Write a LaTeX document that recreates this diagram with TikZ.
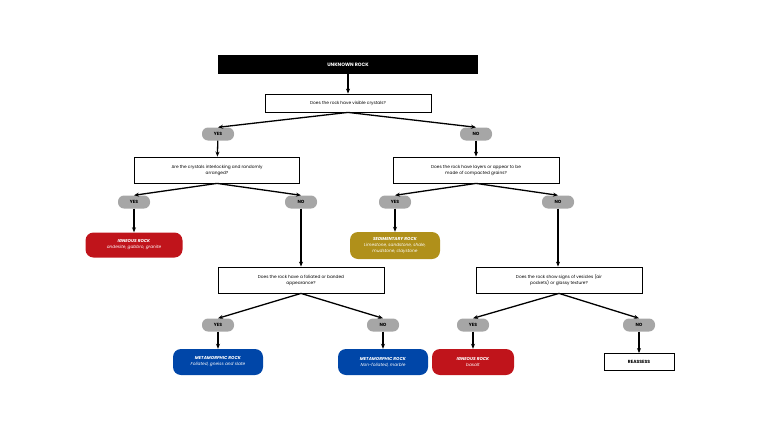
\documentclass[tikz,border=0pt]{standalone}
\usepackage{fontspec}
\setmainfont{Poppins}
\usetikzlibrary{arrows.meta}
\definecolor{rred}{HTML}{C0141B}
\definecolor{rgold}{HTML}{B0901A}
\definecolor{rblue}{HTML}{0046A8}
\definecolor{rgray}{HTML}{A6A6A6}
\begin{document}
\begin{tikzpicture}[x=1pt,y=-1pt,
 qbox/.style={draw,line width=0.8pt,fill=white,minimum height=#1,inner sep=1pt,align=center,font=\fontsize{4.3}{6}\selectfont},
 pill/.style={fill=rgray,rounded corners=6pt,minimum width=32pt,minimum height=13pt,inner sep=0pt,font=\fontsize{4.5}{5}\selectfont\bfseries},
 res/.style={fill=#1,text=white,rounded corners=8pt,minimum height=25pt,inner sep=1pt,align=center,font=\fontsize{4.3}{6}\selectfont},
 arr/.style={-{Stealth[length=5pt,width=4pt]},line width=1.3pt}]
\useasboundingbox (0,0) rectangle (768,431);
\node[fill=black,text=white,minimum width=260pt,minimum height=19pt,inner sep=0pt,font=\fontsize{4.8}{5}\selectfont\bfseries] (u) at (348,64.5) {UNKNOWN ROCK};
\node[qbox=18pt,minimum width=166pt] (q1) at (348,103) {Does the rock have visible crystals?};
\node[pill] (y1) at (218,134) {YES};
\node[pill] (n1) at (476,134) {NO};
\node[qbox=26pt,minimum width=165pt] (q2) at (217,170) {Are the crystals interlocking and randomly\\arranged?};
\node[qbox=26pt,minimum width=166pt] (q3) at (476,170) {Does the rock have layers or appear to be\\made of compacted grains?};
\node[pill] (y2) at (134,202) {YES};
\node[pill] (n2) at (301,202) {NO};
\node[pill] (y3) at (395,202) {YES};
\node[pill] (n3) at (558,202) {NO};
\node[res=rred,minimum width=97pt] (ig1) at (134,245) {\textbf{\textit{IGNEOUS ROCK}}\\\textit{andesite, gabbro, granite}};
\node[res=rgold,minimum width=90pt,minimum height=27pt] (sed) at (395,245.5) {\textbf{\textit{SEDIMENTARY ROCK}}\\\textit{Limestone, sandstone, shale,}\\\textit{mudstone, claystone}};
\node[qbox=26pt,minimum width=166pt] (q4) at (301,280) {Does the rock have a foliated or banded\\appearance?};
\node[qbox=26pt,minimum width=166pt] (q5) at (559,280) {Does the rock show signs of vesicles (air\\pockets) or glassy texture?};
\node[pill] (y4) at (218,325) {YES};
\node[pill] (n4) at (383,325) {NO};
\node[pill] (y5) at (473,325) {YES};
\node[pill] (n5) at (639,325) {NO};
\node[res=rblue,minimum width=90pt,minimum height=26pt] (m1) at (218,362) {\textbf{\textit{METAMORPHIC ROCK}}\\\textit{Foliated, gneiss and slate}};
\node[res=rblue,minimum width=90pt,minimum height=26pt] (m2) at (383,362) {\textbf{\textit{METAMORPHIC ROCK}}\\\textit{Non-foliated, marble}};
\node[res=rred,minimum width=82pt,minimum height=26pt] (ig2) at (473,362) {\textbf{\textit{IGNEOUS ROCK}}\\\textit{basalt}};
\node[qbox=17pt,minimum width=70pt,font=\fontsize{4.5}{5}\selectfont\bfseries] (re) at (639,362) {REASSESS};
\draw[arr] (u) -- (q1);
\draw[arr] (q1.south) -- (y1.north);
\draw[arr] (q1.south) -- (n1.north);
\draw[arr] (y1) -- (q2);
\draw[arr] (n1) -- (q3);
\draw[arr] (q2.south) -- (y2.north);
\draw[arr] (q2.south) -- (n2.north);
\draw[arr] (q3.south) -- (y3.north);
\draw[arr] (q3.south) -- (n3.north);
\draw[arr] (y2) -- (ig1);
\draw[arr] (y3) -- (sed);
\draw[arr] (n2) -- (q4);
\draw[arr] (n3.south) -- (n3.south|-q5.north);
\draw[arr] (q4.south) -- (y4.north);
\draw[arr] (q4.south) -- (n4.north);
\draw[arr] (q5.south) -- (y5.north);
\draw[arr] (q5.south) -- (n5.north);
\draw[arr] (y4) -- (m1);
\draw[arr] (n4) -- (m2);
\draw[arr] (y5) -- (ig2);
\draw[arr] (n5) -- (re);
\end{tikzpicture}
\end{document}
